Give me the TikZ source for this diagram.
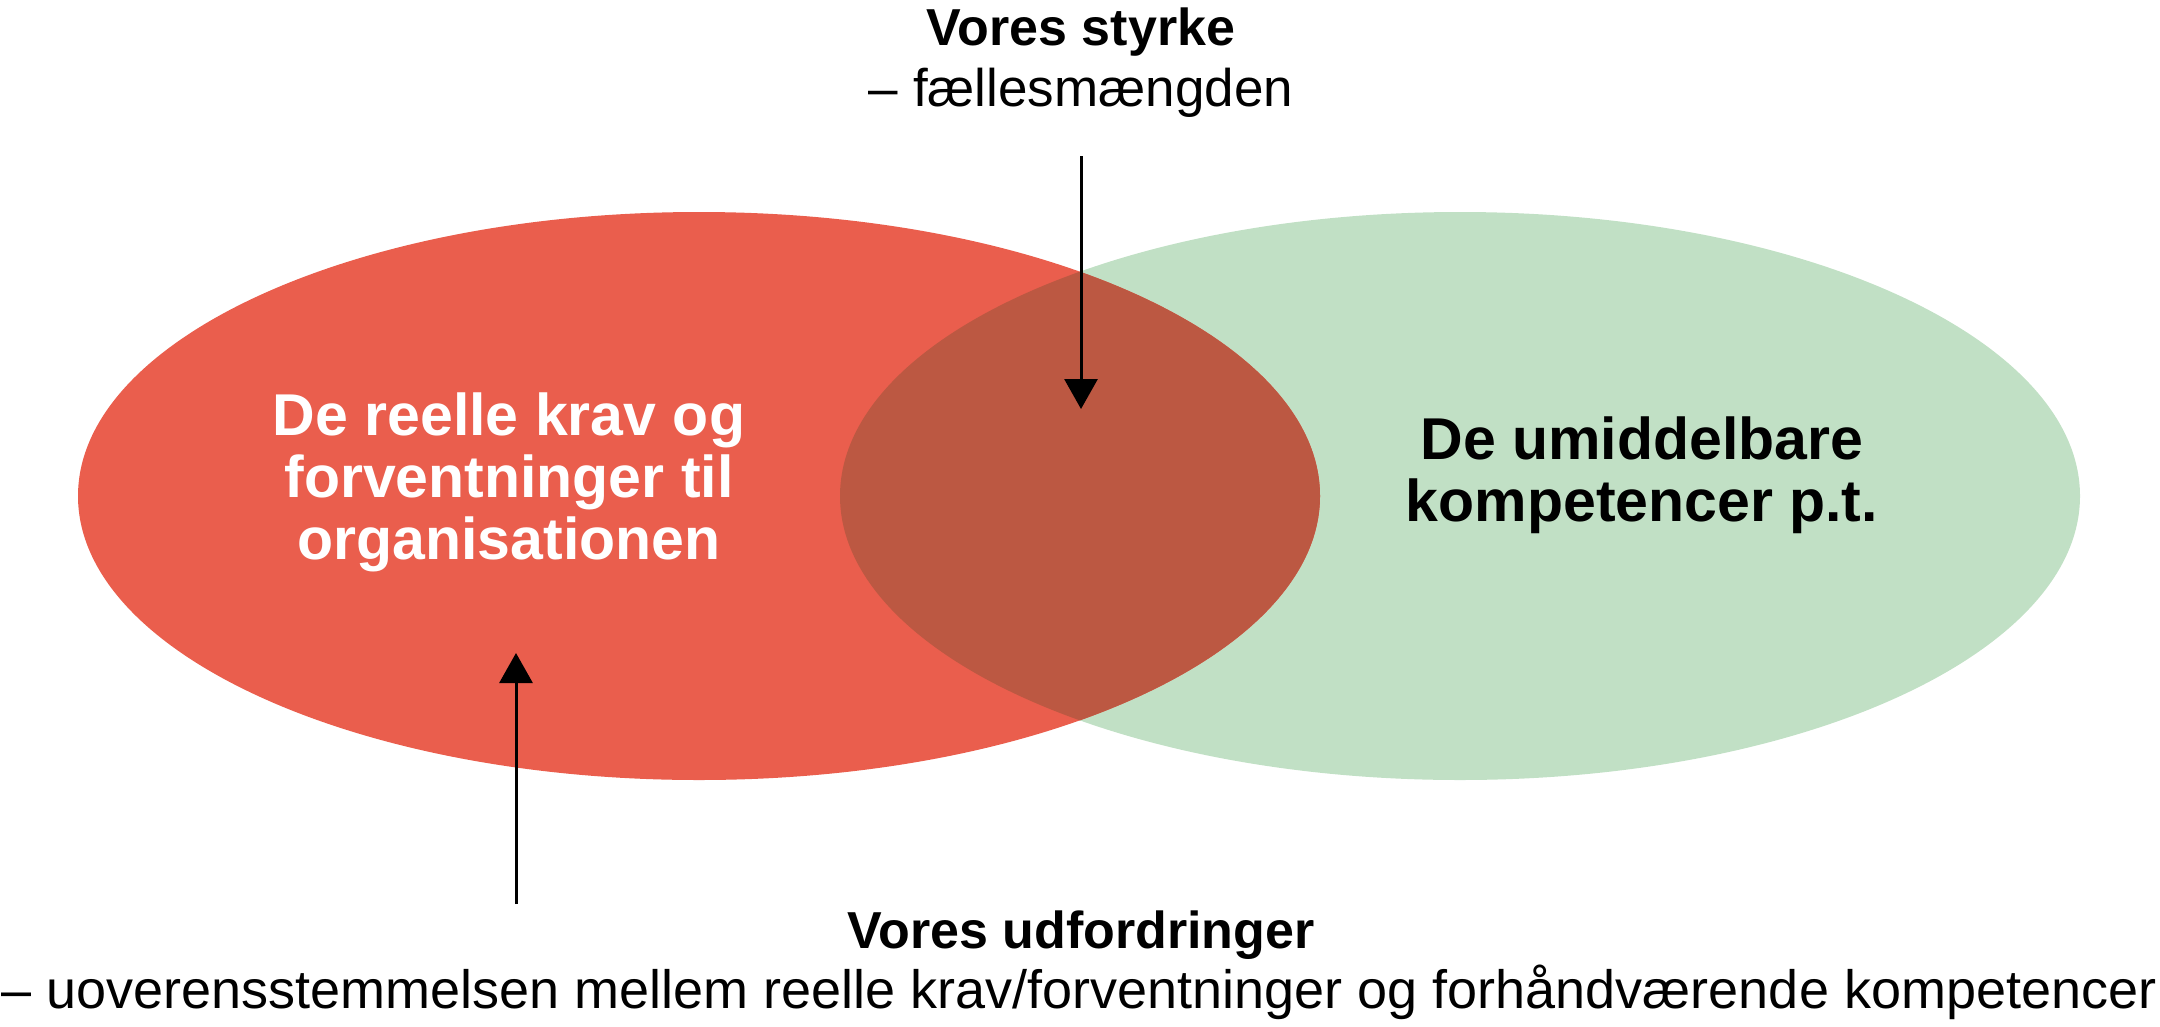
\documentclass[tikz,border=0pt]{standalone}
\usepackage{fontspec}
\setmainfont{Liberation Sans}
\usetikzlibrary{arrows.meta}
\definecolor{krav}{RGB}{234,94,77}
\definecolor{komp}{RGB}{193,224,197}
\definecolor{overlap}{RGB}{188,88,66}

\begin{document}
\begin{tikzpicture}[x=1pt,y=-1pt,
  titel/.style={font=\fontsize{52pt}{61pt}\selectfont\bfseries, anchor=base},
  undertitel/.style={font=\fontsize{53pt}{61pt}\selectfont, anchor=base},
  felt/.style={font=\fontsize{59pt}{62pt}\selectfont\bfseries, align=center},
  pil/.style={->, >={Triangle[width=33pt,length=30pt]}, line width=3pt}]
\useasboundingbox (0,0) rectangle (2160,1026);

% de to maengder
\fill[komp] (1460,496) ellipse [x radius=620, y radius=284];
\fill[krav] (699,496) ellipse [x radius=621, y radius=284];
\begin{scope}
  \clip (699,496) ellipse [x radius=621, y radius=284];
  \fill[overlap] (1460,496) ellipse [x radius=620, y radius=284];
\end{scope}

\node[felt, text=white] (krav)  at (509,482) {De reelle krav og\\forventninger til\\organisationen};
\node[felt]             (komp)  at (1642,475) {De umiddelbare\\kompetencer p.t.};

\node[titel]      (styrke)       at (1081,45)  {Vores styrke};
\node[undertitel] (faelles)      at (1081,106) {– fællesmængden};
\node[titel]      (udfordringer) at (1081,948) {Vores udfordringer};
\node[undertitel, font=\fontsize{54pt}{61pt}\selectfont] (uoverens) at (1079,1008) {– uoverensstemmelsen mellem reelle krav/forventninger og forhåndværende kompetencer};

\coordinate (s1) at (1081,156);
\coordinate (s2) at (1081,409);
\coordinate (u1) at (516,904);
\coordinate (u2) at (516,653);

\path[pil]
    (s1) edge (s2)
    (u1) edge (u2);
\end{tikzpicture}
\end{document}
